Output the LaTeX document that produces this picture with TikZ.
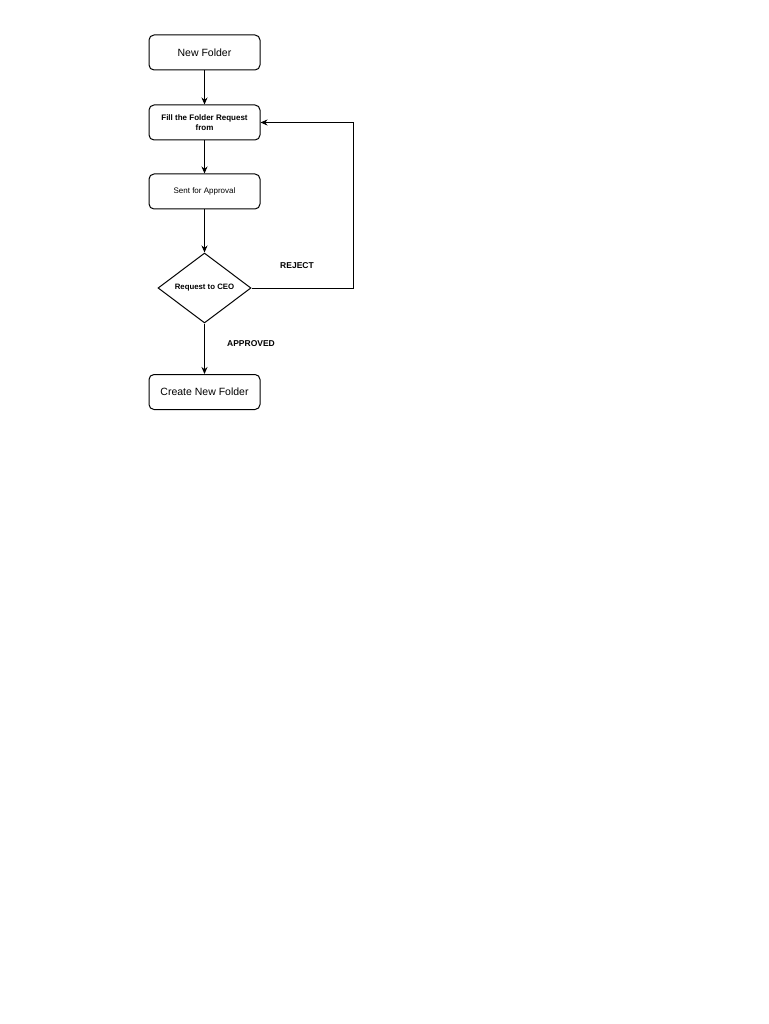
\documentclass[tikz,border=0pt]{standalone}
\usepackage{fontspec}
\setmainfont{Liberation Sans}
\usetikzlibrary{shapes.geometric,arrows.meta}
\begin{document}
\begin{tikzpicture}[x=1pt,y=-1pt,
  proc/.style={draw,line width=1pt,rounded corners=5pt,minimum width=111pt,minimum height=35pt,align=center,inner sep=1pt},
  dec/.style={draw,line width=1pt,diamond,minimum width=93pt,minimum height=70pt,inner sep=0pt,aspect=1.33},
  conn/.style={line width=1pt,-{Stealth[length=7pt,width=6pt]}},
  lbl/.style={font=\bfseries\fontsize{8.5}{10}\selectfont}
]
\useasboundingbox (0,0) rectangle (768,1024);
\node[proc,font=\fontsize{10.5}{12}\selectfont] (a) at (204.5,52.5) {New Folder};
\node[proc,font=\bfseries\fontsize{8}{9.5}\selectfont] (b) at (204.5,122.5) {Fill the Folder Request\\from};
\node[proc,font=\fontsize{8}{9.5}\selectfont] (c) at (204.5,191.5) {Sent for Approval};
\node[dec,font=\bfseries\fontsize{7.8}{9.5}\selectfont] (d) at (204.5,288) {Request to CEO};
\node[proc,font=\fontsize{10.5}{12}\selectfont] (e) at (204.5,392) {Create New Folder};
\coordinate (r1) at (353,288);
\coordinate (r2) at (r1 |- b.east);
\draw[conn] (a) -- (b);
\draw[conn] (b) -- (c);
\draw[conn] (c) -- (d);
\draw[conn] (d) -- (e);
\draw[conn] (d.east) -- (r1) -- (r2) -- (b.east);
\node[lbl] (rej) at (297,266) {REJECT};
\node[lbl] (app) at (251,344) {APPROVED};
\end{tikzpicture}
\end{document}
